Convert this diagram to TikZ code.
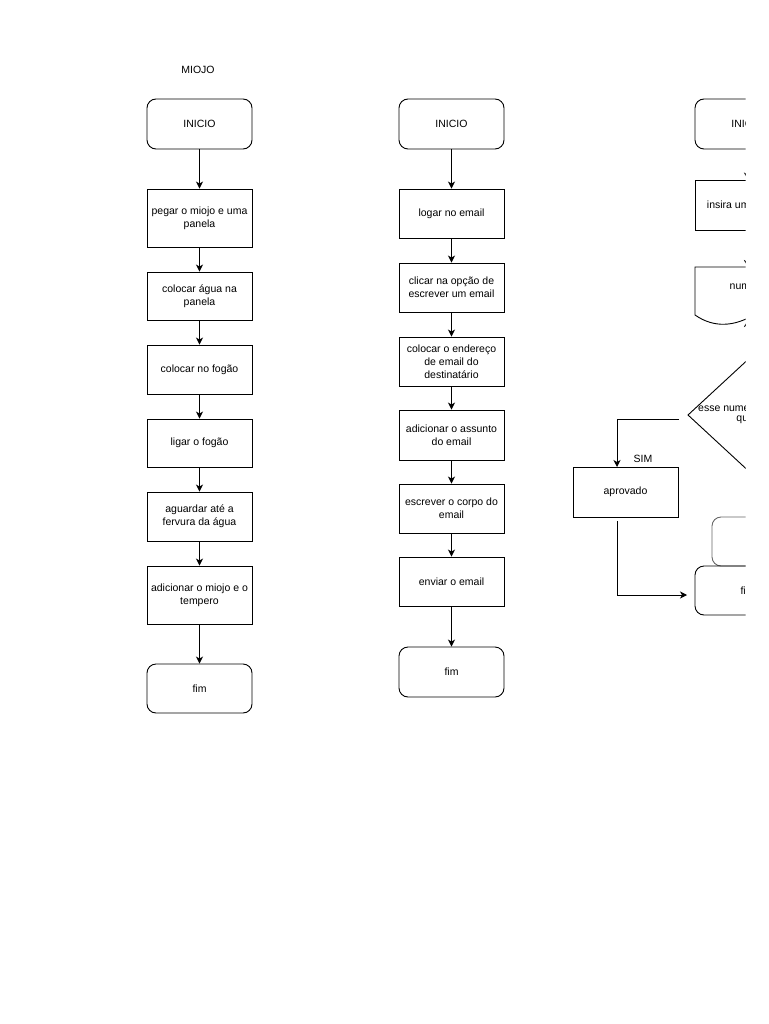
\documentclass[tikz,border=0pt]{standalone}
\usepackage{fontspec}
\setmainfont{Liberation Sans}
\usepackage{tikz}
\usetikzlibrary{shapes,arrows.meta}

\tikzset{
  startstop/.style={draw, rounded corners=9pt, minimum width=105pt, minimum height=50pt, align=center},
  process/.style={draw, minimum width=105pt, minimum height=49pt, align=center},
  flow/.style={-{Stealth[length=7pt,width=7pt,inset=2pt]}},
}

\begin{document}
\begin{tikzpicture}[x=1pt,y=1pt,yscale=-1,line width=0.9pt,
    every node/.style={font=\fontsize{10.5}{13}\selectfont, inner sep=1pt}]
    \useasboundingbox (0,0) rectangle (768,1024);

    %%% MIOJO
    % Text Node
    \node (titulo) at (198,70) {MIOJO};
    %Flowchart: Terminator
    \node[startstop] (ini1) at (199.5,124) {INICIO};
    %Flowchart: Process
    \node[process, minimum height=58pt] (pegar) at (199.5,218) {pegar o miojo e uma\\panela};
    \node[process, minimum height=48pt] (agua) at (199.5,296) {colocar água na\\panela};
    \node[process] (fogao) at (199.5,369.5) {colocar no fogão};
    \node[process, minimum height=48pt] (ligar) at (199.5,443) {ligar o fogão};
    \node[process] (fervura) at (199.5,516.5) {aguardar até a\\fervura da água};
    \node[process, minimum height=58pt] (tempero) at (199.5,595) {adicionar o miojo e o\\tempero};
    %Flowchart: Terminator
    \node[startstop, minimum height=49pt] (fim1) at (199.5,688.5) {fim};
    %Straight Lines
    \draw[flow] (ini1) -- (pegar);
    \draw[flow] (pegar) -- (agua);
    \draw[flow] (agua) -- (fogao);
    \draw[flow] (fogao) -- (ligar);
    \draw[flow] (ligar) -- (fervura);
    \draw[flow] (fervura) -- (tempero);
    \draw[flow] (tempero) -- (fim1);

    %%% EMAIL
    %Flowchart: Terminator
    \node[startstop] (ini2) at (451.5,124) {INICIO};
    %Flowchart: Process
    \node[process] (logar) at (451.5,213.5) {logar no email};
    \node[process] (clicar) at (451.5,287.5) {clicar na opção de\\escrever um email};
    \node[process] (endereco) at (451.5,361.5) {colocar o endereço\\de email do\\destinatário};
    \node[process, minimum height=50pt] (assunto) at (451.5,435) {adicionar o assunto\\do email};
    \node[process] (corpo) at (451.5,508.5) {escrever o corpo do\\email};
    \node[process] (enviar) at (451.5,581.5) {enviar o email};
    %Flowchart: Terminator
    \node[startstop] (fim2) at (451.5,672) {fim};
    %Straight Lines
    \draw[flow] (ini2) -- (logar);
    \draw[flow] (logar) -- (clicar);
    \draw[flow] (clicar) -- (endereco);
    \draw[flow] (endereco) -- (assunto);
    \draw[flow] (assunto) -- (corpo);
    \draw[flow] (corpo) -- (enviar);
    \draw[flow] (enviar) -- (fim2);

    %%% NUMERO (cut at the page edge)
    \begin{scope}
    \clip (0,0) rectangle (745.5,1024);
    %Flowchart: Terminator
    \node[startstop] (ini3) at (747.5,124) {INICIO};
    %Flowchart: Process
    \node[process, minimum height=50pt] (insira) at (747.5,205) {insira um numero};
    %Flowchart: Document
    \draw (695,315) -- (695,267) -- (800,267) -- (800,315)
      .. controls (790,307) and (770,307) .. (750,317)
      .. controls (735,325) and (715,329) .. (695,315) -- cycle;
    \node (numero) at (747.5,287) {numero};
    \coordinate (docBase) at (747.5,320);
    %Flowchart: Decision
    \coordinate (dTop) at (747.5,360);
    \coordinate (dLeft) at (688,415);
    \coordinate (dBottom) at (747.5,470);
    \coordinate (dRight) at (807,415);
    \draw (dTop) -- (dLeft) -- (dBottom) -- (dRight) -- cycle;
    % Text Node
    \node (pergunta) at (747.5,408) {esse numero é maior};
    \node[anchor=west] (pergunta2) at (735,420) {que};
    %Flowchart: Process
    \node[process, minimum height=50pt] (aprovado) at (625.5,492) {aprovado};
    % Text Node
    \node (sim) at (643,459) {SIM};
    %Flowchart: Terminator
    \node[startstop, minimum height=49pt, draw=black!60] (outro) at (764.5,541.5) {};
    \node[startstop, minimum height=49pt] (fim3) at (747.5,590.5) {fim};
    %Straight Lines
    \draw[flow] (ini3) -- (insira);
    \draw[flow] (insira) -- (insira |- 0,267);
    \draw[flow] (dTop) -- (docBase);
    \coordinate (simOut) at (679,419);
    \coordinate (simIn) at (617,467);
    \draw[flow] (simOut) -| (simIn);
    \coordinate (aprOut) at (617,521);
    \coordinate (fimIn) at (687,595);
    \draw[flow] (aprOut) |- (fimIn);
    \end{scope}

\end{tikzpicture}
\end{document}
